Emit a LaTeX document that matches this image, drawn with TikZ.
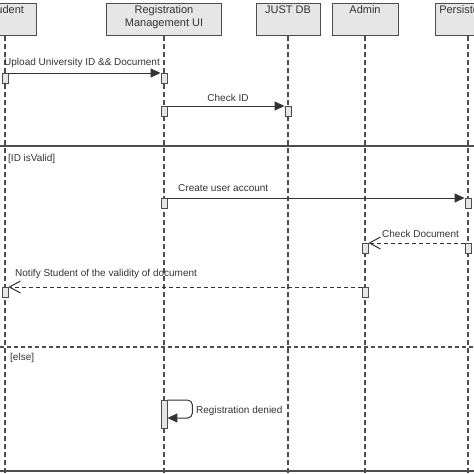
\documentclass[tikz,border=0pt]{standalone}
\usepackage{fontspec}
\setmainfont{Liberation Sans}
\usetikzlibrary{arrows.meta}
\definecolor{lc}{HTML}{333333}
\definecolor{ll}{HTML}{4D4D4D}
\definecolor{hdfill}{HTML}{E6E6E6}
\begin{document}
\begin{tikzpicture}[x=1pt,y=-1pt,
  headbox/.style={draw=ll, fill=hdfill, line width=1pt, minimum height=32pt, inner sep=0pt, anchor=north},
  headtext/.style={anchor=base, inner sep=0pt, text=lc, font=\fontsize{11}{13}\selectfont},
  lifeline/.style={draw=ll, line width=1.2pt, dash pattern=on 5pt off 3pt},
  act/.style={draw=ll, fill=hdfill, line width=0.9pt, minimum width=6pt, minimum height=10pt, inner sep=0pt, anchor=north},
  msgtext/.style={inner sep=0pt, text=lc, font=\fontsize{10}{12}\selectfont},
  call/.style={draw=lc, line width=1pt, -{Triangle[length=10pt,width=9pt]}},
  reply/.style={draw=lc, line width=1pt, dash pattern=on 4pt off 3pt, -{Straight Barb[length=11pt,width=12pt,line width=1pt]}},
  frameline/.style={draw=ll, line width=1.2pt}
]
\useasboundingbox (0,0) rectangle (474,474);

% header boxes
\node[headbox, minimum width=62pt] (hS) at (5,3) {};
\node[headbox, minimum width=115pt] (hU) at (163.5,3) {};
\node[headbox, minimum width=64pt] (hD) at (288,3) {};
\node[headbox, minimum width=66pt] (hA) at (365,3) {};
\node[headbox, minimum width=66pt] (hP) at (468,3) {};

\node[headtext] (tS) at (5,13) {Student};
\node[headtext] (tU1) at (164,13) {Registration};
\node[headtext] (tU2) at (164,26) {Management UI};
\node[headtext] (tD) at (288,13) {JUST DB};
\node[headtext] (tA) at (365,13) {Admin};
\node[headtext] (tP) at (468,13) {Persistence};

% lifeline ends
\coordinate (eS) at (5,474);
\coordinate (eU) at (164,474);
\coordinate (eD) at (288,474);
\coordinate (eA) at (365,474);
\coordinate (eP) at (468,474);

\draw[lifeline] (hS.south -| eS) -- (eS);
\draw[lifeline] (hU.south -| eU) -- (eU);
\draw[lifeline] (hD.south) -- (eD);
\draw[lifeline] (hA.south) -- (eA);
\draw[lifeline] (hP.south) -- (eP);

% fragment lines
\coordinate (f1l) at (0,146); \coordinate (f1r) at (474,146);
\coordinate (f2l) at (0,347); \coordinate (f2r) at (474,347);
\coordinate (f3l) at (0,471); \coordinate (f3r) at (474,471);
\draw[frameline] (f1l) -- (f1r);
\draw[frameline, dash pattern=on 4pt off 3pt] (f2l) -- (f2r);
\draw[frameline] (f3l) -- (f3r);
\node[msgtext, anchor=base west] (g1) at (8,161) {[ID isValid]};
\node[msgtext, anchor=base west] (g2) at (10,360) {[else]};

% activations
\node[act] (aS1) at (5,73) {};
\node[act] (aU1) at (164,73) {};
\node[act] (aU2) at (164,106) {};
\node[act] (aD2) at (288,106) {};
\node[act] (aU3) at (164,198) {};
\node[act] (aP3) at (468,198) {};
\node[act] (aP4) at (468,243) {};
\node[act] (aA4) at (365,243) {};
\node[act] (aA5) at (365,287) {};
\node[act] (aS5) at (5,287) {};
\node[act, minimum height=28pt] (aU6) at (164,400) {};

% messages
\draw[call] (aS1.north east) -- (aU1.north west);
\node[msgtext, anchor=base west] (m1) at (4,65) {Upload University ID \&\& Document};

\draw[call] (aU2.north east) -- (aD2.north west);
\node[msgtext, anchor=base] (m2) at (228,101) {Check ID};

\draw[call] (aU3.north east) -- (aP3.north west);
\node[msgtext, anchor=base west] (m3) at (178,191) {Create user account};

\draw[reply] (aP4.north west) -- (aA4.north east);
\node[msgtext, anchor=base west] (m4) at (382,237) {Check Document};

\draw[reply] (aA5.north west) -- (aS5.north east);
\node[msgtext, anchor=base west] (m5) at (15,276) {Notify Student of the validity of document};

\draw[call, rounded corners=5pt] (aU6.north east) -- ++(25,0) -- ++(0,18) -- ++(-25,0);
\node[msgtext, anchor=base west] (m6) at (196,413) {Registration denied};

\end{tikzpicture}
\end{document}
